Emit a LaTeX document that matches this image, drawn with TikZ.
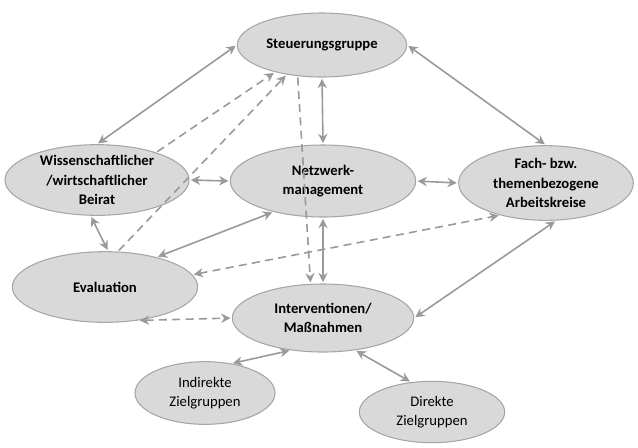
\documentclass[tikz,border=0pt]{standalone}
\usepackage{fontspec}
\setmainfont{Carlito}
\usetikzlibrary{shapes.geometric,arrows.meta}
\definecolor{fillg}{HTML}{D9D9D9}
\definecolor{edgeg}{HTML}{A6A6A6}
\definecolor{arrg}{HTML}{9A9A9A}
\begin{document}
\begin{tikzpicture}[x=0.75pt,y=-0.75pt,
  el/.style={ellipse,draw=edgeg,line width=0.8pt,fill=fillg,align=center,font=\fontsize{11}{14.5}\selectfont\bfseries,inner sep=0pt},
  el2/.style={el,font=\fontsize{11}{14.5}\selectfont},
  ar/.style={draw=arrg,line width=1.2pt,{Stealth[length=7pt,width=7pt]}-{Stealth[length=7pt,width=7pt]},shorten <=1pt,shorten >=1pt},
  da/.style={draw=arrg,line width=1.2pt,dash pattern=on 6pt off 4pt,shorten <=1pt,shorten >=1pt}]
\useasboundingbox (0,0) rectangle (638,447);
\node[el,minimum width=127pt,minimum height=48pt] (s) at (322,45) {Steuerungsgruppe};
\node[el,minimum width=138pt,minimum height=53pt] (w) at (97,180) {Wissenschaftlicher\\/wirtschaftlicher\\Beirat};
\node[el,minimum width=139pt,minimum height=54pt] (n) at (323,181) {Netzwerk-\\management};
\node[el,minimum width=131pt,minimum height=56pt] (f) at (546,183) {Fach- bzw.\\themenbezogene\\Arbeitskreise};
\node[el,minimum width=139pt,minimum height=53pt] (e) at (105,287) {Evaluation};
\node[el,minimum width=136pt,minimum height=51pt] (i) at (323,318) {Interventionen/\\Maßnahmen};
\node[el2,minimum width=105pt,minimum height=47pt] (z1) at (205,393) {Indirekte\\Zielgruppen};
\node[el2,minimum width=109pt,minimum height=46pt] (z2) at (432,412) {Direkte\\Zielgruppen};
% solid
\draw[ar] (w.north) -- (s.west);
\draw[ar] (s.east) -- (f.north);
\draw[ar] (s.south) -- (n.north);
\draw[ar] (w.east) -- (n.west);
\draw[ar] (n.east) -- (f.west);
\draw[ar] (n) -- (i);
\draw[ar] (w.-100) -- (e.85);
\draw[ar] (n.-148) -- (e.30);
\draw[ar] (f.-75) -- (i.east);
\draw[ar] (i.-135) -- (z1.48);
\draw[ar] (i.-45) -- (z2.125);
% dashed
\draw[da,-{Stealth[length=7pt,width=7pt]}] (e.70) -- (s.-140);
\draw[da,-{Stealth[length=7pt,width=7pt]}] (w.25) -- (s.-150);
\draw[da,-{Stealth[length=7pt,width=7pt]}] (s.-128) -- (i.110);
\draw[da,{Stealth[length=7pt,width=7pt]}-{Stealth[length=7pt,width=7pt]}] (e.8) -- (f.-145);
\draw[da,{Stealth[length=7pt,width=7pt]}-{Stealth[length=7pt,width=7pt]}] (e.-45) -- (i.west);
\end{tikzpicture}
\end{document}
